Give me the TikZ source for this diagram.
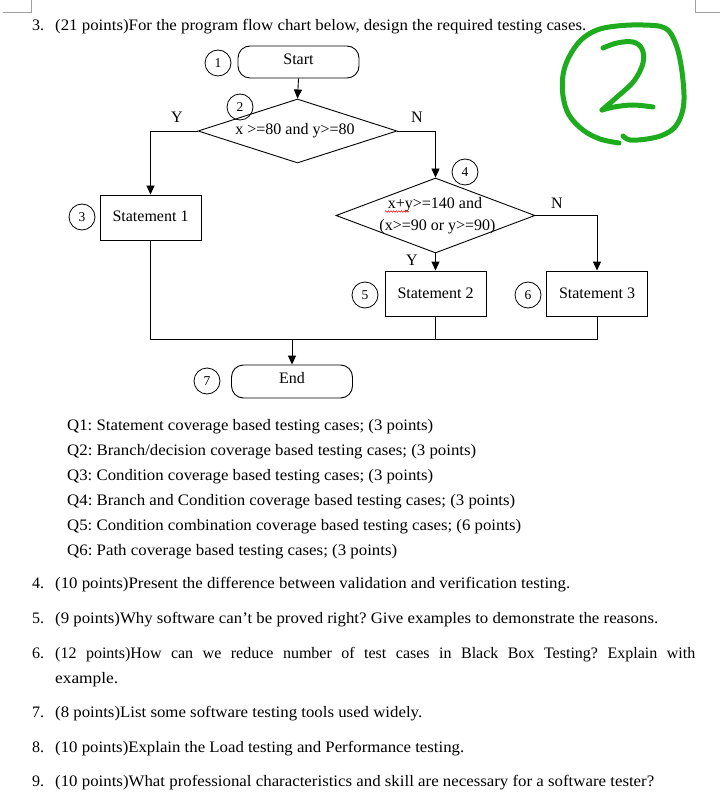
\documentclass[tikz,border=0pt]{standalone}
\usepackage{fontspec}
\setmainfont{Liberation Serif}
\usepackage{graphicx}
\usetikzlibrary{shapes.geometric,arrows.meta,decorations.pathmorphing}
\definecolor{markgreen}{RGB}{30,172,30}
\definecolor{cornergray}{RGB}{160,160,160}
\frenchspacing
\begin{document}
\begin{tikzpicture}[x=1pt,y=-1pt,
  txt/.style={anchor=base west,inner sep=0pt,font=\fontsize{16}{19}\selectfont},
  ctxt/.style={anchor=base,inner sep=0pt,font=\fontsize{16}{19}\selectfont},
  numc/.style={circle,draw,line width=0.8pt,minimum size=26pt,inner sep=0pt,font=\fontsize{13.5}{15}\selectfont},
  term/.style={draw,line width=0.9pt,rounded corners=12pt,minimum width=121pt,minimum height=32pt,inner sep=0pt},
  stbox/.style={draw,line width=0.9pt,minimum width=101pt,minimum height=45pt,inner sep=0pt},
  dec/.style={diamond,draw,line width=0.9pt,minimum width=199pt,inner sep=0pt},
  conn/.style={line width=0.9pt},
  arr/.style={line width=0.9pt,-{Triangle[length=9pt,width=8pt]}},
  penline/.style={markgreen,line width=5pt,line cap=round,line join=round}
]
\useasboundingbox (0,0) rectangle (720,810);
\fill[white] (0,0) rectangle (720,810);
% corner marks
\draw[cornergray,line width=1pt] (3,12.5) -- (31.5,12.5) -- (31.5,0);
\draw[cornergray,line width=1pt] (720,12.5) -- (695,12.5) -- (695,0);

% question 3 heading
\node[txt] (n3) at (32,31) {3.};
\node[txt] (t3) at (55,31) {\resizebox{531pt}{\height}{(21 points)For the program flow chart below, design the required testing cases.}};

% green hand mark
\draw[penline]
  plot[smooth,tension=0.6] coordinates {(623,136) (630,140) (647,139) (663,135) (675,127) (682,113) (684,95) (681,65) (675,42) (665,28) (643,25) (617,26) (597,30) (581,40) (569,57) (563,75) (563,96) (569,115) (583,130) (600,139) (619,143)};
\draw[penline]
  plot[smooth,tension=0.6] coordinates {(603,48) (617,43) (633,42) (642,49) (643,63) (634,81) (617,97) (602,110)};
\draw[penline]
  plot[smooth,tension=0.6] coordinates {(602,110) (614,107) (633,105) (653,107)};

% flowchart nodes
\node[term] (start) at (298.5,62) {};
\node[ctxt] (starttxt) at (298.5,65) {Start};
\node[dec,minimum height=64pt] (d1) at (297.5,131) {};
\node[ctxt] (d1txt) at (295,135) {x >=80 and y>=80};
\node[stbox] (s1) at (150.5,217.5) {};
\node[ctxt] (s1txt) at (150.5,222) {Statement 1};
\node[dec,minimum height=75pt] (d2) at (435.5,215.5) {};
\node[ctxt] (d2a) at (435,208) {x+y>=140 and};
\node[ctxt] (d2b) at (437.5,230) {(x>=90 or y>=90)};
\draw[red,line width=0.5pt,decorate,decoration={snake,amplitude=0.8pt,segment length=2.6pt}] (385,211.5) -- (409,211.5);
\node[stbox] (s2) at (435.5,293.5) {};
\node[ctxt] (s2txt) at (435.5,298) {Statement 2};
\node[stbox] (s3) at (597,293.5) {};
\node[ctxt] (s3txt) at (597,298) {Statement 3};
\node[term,minimum height=33pt] (end) at (292,381.5) {};
\node[ctxt] (endtxt) at (292,383) {End};

% numbered circles
\node[numc] (c1) at (218,63) {1};
\node[numc] (c2) at (240,107) {2};
\node[numc] (c3) at (82,217) {3};
\node[numc] (c4) at (465,172) {4};
\node[numc] (c5) at (365,295) {5};
\node[numc] (c6) at (528,295) {6};
\node[numc] (c7) at (207,381) {7};

% branch labels
\node[ctxt] (y1) at (177,123) {Y};
\node[ctxt] (n1) at (417,123) {N};
\node[ctxt] (n2) at (557,208) {N};
\node[ctxt] (y2) at (412,265) {Y};

% connectors
\draw[arr] (start.south) -- (d1.north);
\draw[arr] (d1.west) -| (s1.north);
\draw[arr] (d1.east) -| (d2.north);
\draw[arr] (d2.south) -- (s2.north);
\draw[arr] (d2.east) -| (s3.north);
\coordinate (m) at (292,339);
\draw[conn] (s1.south) |- (m);
\draw[conn] (s3.south) |- (m);
\draw[conn] (s2.south) -- (s2.south |- m);
\draw[arr] (m) -- (end.north);

% sub-questions
\node[txt] (q1) at (67,430) {\resizebox{366pt}{\height}{Q1: Statement coverage based testing cases; (3 points)}};
\node[txt] (q2) at (67,455) {\resizebox{409pt}{\height}{Q2: Branch/decision coverage based testing cases; (3 points)}};
\node[txt] (q3) at (67,480) {\resizebox{366pt}{\height}{Q3: Condition coverage based testing cases; (3 points)}};
\node[txt] (q4) at (67,505) {\resizebox{448pt}{\height}{Q4: Branch and Condition coverage based testing cases; (3 points)}};
\node[txt] (q5) at (67,530) {\resizebox{454pt}{\height}{Q5: Condition combination coverage based testing cases; (6 points)}};
\node[txt] (q6) at (67,555) {\resizebox{330pt}{\height}{Q6: Path coverage based testing cases; (3 points)}};

% questions 4-9
\node[txt] (n4) at (32,588) {4.};
\node[txt] (t4) at (55,588) {\resizebox{515pt}{\height}{(10 points)Present the difference between validation and verification testing.}};
\node[txt] (n5) at (32,623) {5.};
\node[txt] (t5) at (55,623) {\resizebox{603pt}{\height}{(9 points)Why software can’t be proved right? Give examples to demonstrate the reasons.}};
\node[txt] (n6) at (32,658) {6.};
\node[txt] (t6) at (55,658) {\makebox[640pt][s]{(12 points)How can we reduce number of test cases in Black Box Testing? Explain with}};
\node[txt] (t6b) at (55,683) {\resizebox{63pt}{\height}{example.}};
\node[txt] (n7) at (32,717) {7.};
\node[txt] (t7) at (55,717) {\resizebox{367pt}{\height}{(8 points)List some software testing tools used widely.}};
\node[txt] (n8) at (32,752) {8.};
\node[txt] (t8) at (55,752) {\resizebox{409pt}{\height}{(10 points)Explain the Load testing and Performance testing.}};
\node[txt] (n9) at (32,786) {9.};
\node[txt] (t9) at (55,786) {\resizebox{599pt}{\height}{(10 points)What professional characteristics and skill are necessary for a software tester?}};
\end{tikzpicture}
\end{document}
